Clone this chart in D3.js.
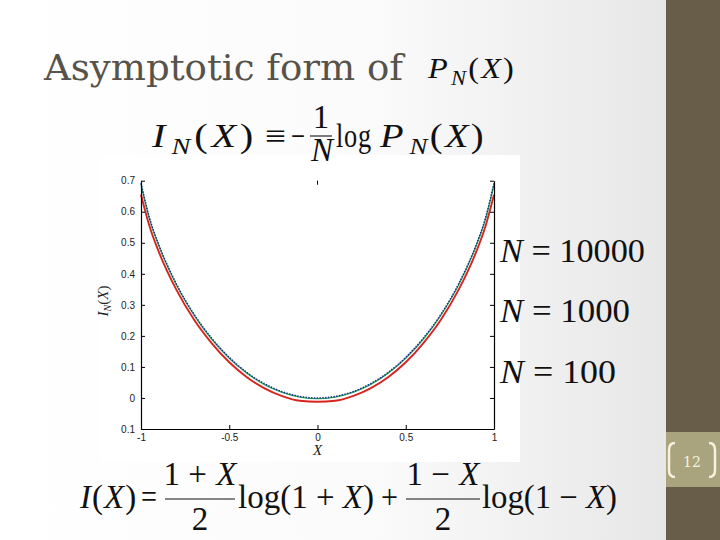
<!DOCTYPE html>
<html><head><meta charset="utf-8">
<script src="https://cdn.jsdelivr.net/npm/d3@7"></script>
<style>html,body{margin:0;padding:0;background:#fff;}svg{display:block;}</style>
</head><body>
<script>
// ---- data ----
const xValues = [-1, -0.95, -0.9, -0.8, -0.7, -0.6, -0.5, -0.4, -0.3, -0.2, -0.1, 0,
                 0.1, 0.2, 0.3, 0.4, 0.5, 0.6, 0.7, 0.8, 0.9, 0.95, 1];
const seriesN10000 = [0.692, 0.576, 0.495, 0.368, 0.270, 0.193, 0.131, 0.082, 0.046, 0.020, 0.005, 0.000,
                      0.005, 0.020, 0.046, 0.082, 0.131, 0.193, 0.270, 0.368, 0.495, 0.576, 0.692];
const seriesN1000  = [0.688, 0.573, 0.492, 0.365, 0.268, 0.190, 0.128, 0.080, 0.043, 0.018, 0.003, -0.002,
                      0.003, 0.018, 0.043, 0.080, 0.128, 0.190, 0.268, 0.365, 0.492, 0.573, 0.688];
const seriesN100   = [0.655, 0.550, 0.472, 0.349, 0.253, 0.177, 0.115, 0.067, 0.031, 0.006, -0.009, -0.012,
                      -0.009, 0.006, 0.031, 0.067, 0.115, 0.177, 0.253, 0.349, 0.472, 0.550, 0.655];
const xTicks = [-1, -0.5, 0, 0.5, 1];
const xTickLabels = ["-1", "-0.5", "0", "0.5", "1"];
const yTicks = [-0.1, 0, 0.1, 0.2, 0.3, 0.4, 0.5, 0.6, 0.7];
const yTickLabels = ["0.1", "0", "0.1", "0.2", "0.3", "0.4", "0.5", "0.6", "0.7"];
const legendLabels = ["10000", "1000", "100"];
const slideNumber = "12";

const svg = d3.select("body").append("svg").attr("width", 720).attr("height", 540);
const defs = svg.append("defs");
const grad = defs.append("linearGradient").attr("id", "bg").attr("x1", 0).attr("x2", 1).attr("y1", 0).attr("y2", 0);
grad.append("stop").attr("offset", "0").attr("stop-color", "#ffffff");
grad.append("stop").attr("offset", "0.55").attr("stop-color", "#fbfbfb");
grad.append("stop").attr("offset", "0.78").attr("stop-color", "#f1f1f1");
grad.append("stop").attr("offset", "1").attr("stop-color", "#e7e7e7");

svg.append("rect").attr("x", 0).attr("y", 0).attr("width", 666).attr("height", 540).attr("fill", "url(#bg)");
svg.append("rect").attr("x", 666).attr("y", 0).attr("width", 54).attr("height", 540).attr("fill", "#675d48");
svg.append("rect").attr("x", 666).attr("y", 432).attr("width", 54).attr("height", 55).attr("fill", "#a9a47d");

// slide number
const cream = "#f6f2de";
svg.append("path").attr("d", "M675,443 Q669,443 669,450 L669,470 Q669,477 675,477")
  .attr("fill", "none").attr("stroke", cream).attr("stroke-width", 2.5);
svg.append("path").attr("d", "M709,443 Q715,443 715,450 L715,470 Q715,477 709,477")
  .attr("fill", "none").attr("stroke", cream).attr("stroke-width", 2.5);
svg.append("text").attr("x", 692).attr("y", 467).attr("text-anchor", "middle")
  .attr("font-family", "'DejaVu Serif', serif").attr("font-size", 14).attr("fill", cream).text(slideNumber);

// title
svg.append("text").attr("x", 44).attr("y", 80)
  .attr("font-family", "'DejaVu Serif', serif").attr("font-size", 35).attr("fill", "#57524a")
  .attr("textLength", 359).attr("lengthAdjust", "spacingAndGlyphs")
  .text("Asymptotic form of");

// white chart box
svg.append("rect").attr("x", 100).attr("y", 155).attr("width", 420).attr("height", 307).attr("fill", "#fff");

// math helper
const MF = "'Liberation Serif', 'Times New Roman', serif";
function mtext(x, y, parts, size, width, anchor, ls) {
  const t = svg.append("text").attr("x", x).attr("y", y).attr("font-family", MF)
    .attr("font-size", size).attr("fill", "#111").attr("text-anchor", anchor || "start");
  if (ls) t.attr("letter-spacing", ls);
  let shift = 0;
  parts.forEach(p => {
    const ts = t.append("tspan").text(p.t);
    if (p.i) ts.attr("font-style", "italic");
    if (p.dx) ts.attr("dx", p.dx);
    if (p.sub) { ts.attr("font-size", size * 0.7).attr("dy", size * 0.22 - shift).attr("dx", p.dx || 2); shift = size * 0.22; }
    else if (shift) { ts.attr("dy", -shift); shift = 0; }
  });
  if (width) t.attr("textLength", width).attr("lengthAdjust", "spacingAndGlyphs");
  return t;
}
const PN = [{t: "P", i: 1}, {t: "N", i: 1, sub: 1, dx: 3}, {t: "("}, {t: "X", i: 1}, {t: ")"}];
const PNt = [{t: "P", i: 1}, {t: "N", i: 1, sub: 1, dx: 1}, {t: "("}, {t: "X", i: 1}, {t: ")"}];
const IN = [{t: "I", i: 1}, {t: "N", i: 1, sub: 1}, {t: "("}, {t: "X", i: 1}, {t: ")"}];

// title formula
mtext(428, 78, PNt, 30, 88, "start", 2);

// I_N(X) definition
const b2 = 147;
mtext(152, b2, IN, 33, 105, "start", 3);
mtext(265, b2, [{t: "\u2261"}], 33, 21);
mtext(291, b2, [{t: "\u2212"}], 33, 14);
mtext(321, 128, [{t: "1"}], 33, null, "middle");
svg.append("line").attr("x1", 310).attr("x2", 332).attr("y1", 136).attr("y2", 136).attr("stroke", "#111").attr("stroke-width", 1.1);
mtext(322, 161, [{t: "N", i: 1}], 33, null, "middle");
mtext(336, b2, [{t: "log"}], 33, 36, "start", 1);
mtext(380, b2, PN, 33, 106, "start", 2);

// bottom formula
const b3 = 508;
mtext(80, b3, [{t: "I", i: 1}, {t: "("}, {t: "X", i: 1}, {t: ")"}], 33, null, "start", 1);
mtext(141, b3, [{t: "="}], 33, 16);
mtext(200, 485, [{t: "1 + "}, {t: "X", i: 1, dx: 1}], 33, null, "middle");
svg.append("line").attr("x1", 165).attr("x2", 235).attr("y1", 499).attr("y2", 499).attr("stroke", "#111").attr("stroke-width", 1.1);
mtext(200, 530, [{t: "2"}], 33, null, "middle");
mtext(238, b3, [{t: "log(1 + "}, {t: "X", i: 1}, {t: ")"}], 33, 136);
mtext(381, b3, [{t: "+"}], 33, 17);
mtext(443, 485, [{t: "1 \u2212 "}, {t: "X", i: 1, dx: 1}], 33, null, "middle");
svg.append("line").attr("x1", 406).attr("x2", 480).attr("y1", 499).attr("y2", 499).attr("stroke", "#111").attr("stroke-width", 1.1);
mtext(443, 530, [{t: "2"}], 33, null, "middle");
mtext(482, b3, [{t: "log(1 \u2212 "}, {t: "X", i: 1}, {t: ")"}], 33, 135);

// ---- chart ----
const x = d3.scaleLinear().domain([-1, 1]).range([141, 494]);
const y = d3.scaleLinear().domain([-0.1, 0.7]).range([429, 180.7]);
const pts = s => xValues.map((v, i) => [v, s[i]]);
const line = d3.line().x(d => x(d[0])).y(d => y(d[1])).curve(d3.curveMonotoneX);

const plot = svg.append("g");
plot.append("path").datum(pts(seriesN100)).attr("d", line)
  .attr("fill", "none").attr("stroke", "#d8231f").attr("stroke-width", 1.9);
plot.append("path").datum(pts(seriesN1000)).attr("d", line)
  .attr("fill", "none").attr("stroke", "#29a35a").attr("stroke-width", 1.3);
plot.append("path").datum(pts(seriesN10000)).attr("d", line)
  .attr("fill", "none").attr("stroke", "#1c2d8a").attr("stroke-width", 1.5).attr("stroke-dasharray", "1.4,1.4");

const axisFont = "'Liberation Sans', Arial, sans-serif";
const gx = svg.append("g").attr("transform", `translate(0,${y(-0.1)})`)
  .call(d3.axisBottom(x).tickValues(xTicks).tickFormat((d, i) => xTickLabels[i]).tickSize(-4).tickPadding(5).tickSizeOuter(0));
const gy = svg.append("g").attr("transform", `translate(${x(-1)},0)`)
  .call(d3.axisLeft(y).tickValues(yTicks).tickFormat((d, i) => yTickLabels[i]).tickSize(-4).tickPadding(6).tickSizeOuter(0));
const gr = svg.append("g").attr("transform", `translate(${x(1)},0)`)
  .call(d3.axisRight(y).tickValues(yTicks).tickFormat("").tickSize(-4).tickSizeOuter(0));
[gx, gy, gr].forEach(g => {
  g.selectAll("path.domain").attr("stroke", "#000").attr("stroke-width", 1.2);
  g.selectAll("line").attr("stroke", "#000");
  g.selectAll("text").attr("font-family", axisFont).attr("font-size", 10).attr("fill", "#222");
});
// top tick at X = 0
svg.append("line").attr("x1", x(0)).attr("x2", x(0)).attr("y1", y(0.7)).attr("y2", y(0.7) + 4).attr("stroke", "#000");

// axis labels
svg.append("text").attr("x", x(0)).attr("y", 455).attr("text-anchor", "middle")
  .attr("font-family", MF).attr("font-style", "italic").attr("font-size", 15).attr("fill", "#222").text("X");
const yl = svg.append("text").attr("transform", "translate(108,301) rotate(-90)").attr("text-anchor", "middle")
  .attr("font-family", MF).attr("font-size", 15).attr("fill", "#222");
yl.append("tspan").attr("font-style", "italic").text("I");
yl.append("tspan").attr("font-style", "italic").attr("font-size", 10).attr("dy", 3).text("N");
yl.append("tspan").attr("dy", -3).text("(");
yl.append("tspan").attr("font-style", "italic").text("X");
yl.append("tspan").text(")");

// legend labels (N = ...)
const legBase = [262, 322, 383];
const legW = [145, 130, 116];
legendLabels.forEach((lab, i) => {
  mtext(500, legBase[i], [{t: "N", i: 1}, {t: " = " + lab}], 33, legW[i]);
});
</script>
</body></html>
